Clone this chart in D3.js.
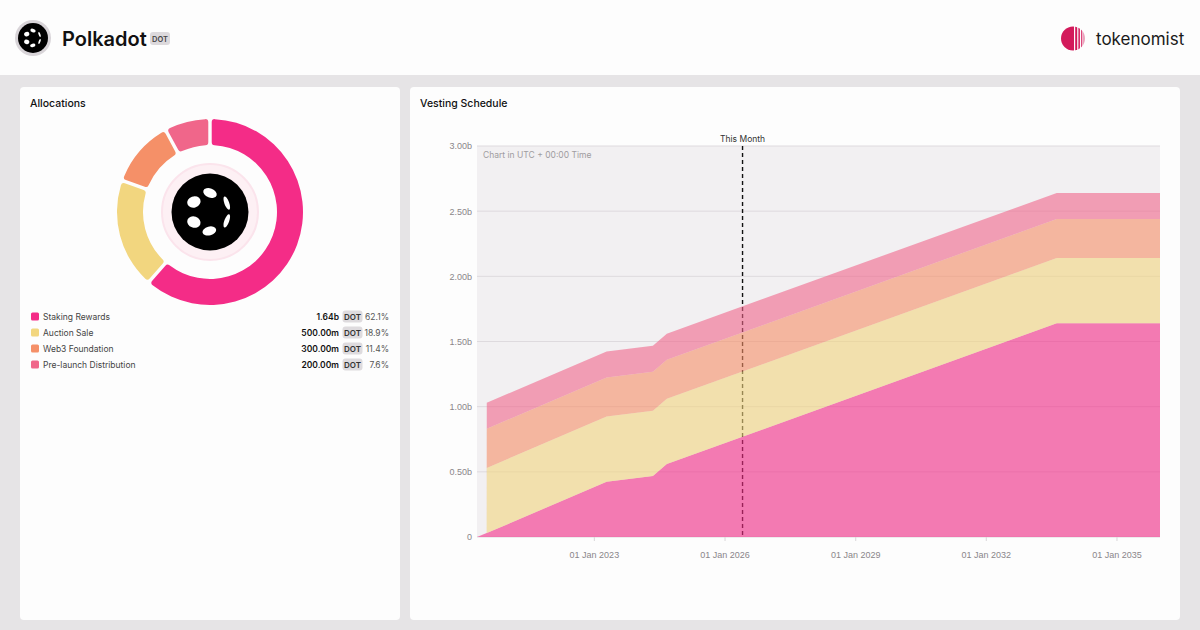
<!DOCTYPE html>
<html>
<head>
<meta charset="utf-8">
<script src="https://cdn.jsdelivr.net/npm/d3@7"></script>
<style>
  html, body { margin: 0; padding: 0; background: #e6e4e6; }
  svg { display: block; font-family: Inter, "Noto Sans", sans-serif; }
  .axis text { fill: #8a868a; font-size: 9px; }
  .axis line { stroke: #d9d6d9; }
  .axis path { display: none; }
</style>
</head>
<body>
<svg id="chart" width="1200" height="630"></svg>
<script>
// allocations
const categories = ['Staking Rewards', 'Auction Sale', 'Web3 Foundation', 'Pre-launch Distribution'];
const allocations = [1.64e9, 500e6, 300e6, 200e6];
const amountLabels = ['1.64b', '500.00m', '300.00m', '200.00m'];
const shareLabels = ['62.1%', '18.9%', '11.4%', '7.6%'];
const colors = ['#f42c87', '#f2d67f', '#f59068', '#f0668a'];

// vesting schedule (billions of DOT, cumulative unlocked)
const vestDates = ['2020-04-26', '2020-07-16', '2020-07-17', '2023-04-18', '2024-05-10', '2024-09-04', '2033-08-18', '2036-01-01'];
const stakingRewards = [0, 0.03, 0.03, 0.424, 0.468, 0.56, 1.64, 1.64];
const auctionSale = [0, 0, 0.5, 0.5, 0.5, 0.5, 0.5, 0.5];
const web3Foundation = [0, 0, 0.3, 0.3, 0.3, 0.3, 0.3, 0.3];
const preLaunch = [0, 0, 0.2, 0.2, 0.2, 0.2, 0.2, 0.2];
const yTicks = [0, 0.5, 1, 1.5, 2, 2.5, 3];
const xTickYears = [2023, 2026, 2029, 2032, 2035];
const thisMonth = '2026-06-01';

const svg = d3.select('#chart');

// header
svg.append('rect').attr('width', 1200).attr('height', 75).attr('fill', '#fdfdfd');

function polkadotMark(g, r) {
  g.append('circle').attr('r', r).attr('fill', '#000');
  const s = r / 38.5;
  const dots = [
    { a: -90, rx: 7, ry: 4.6, rot: 20 },
    { a: -148, rx: 6.8, ry: 5.6, rot: -20 },
    { a: 148, rx: 6.8, ry: 5.6, rot: 20 },
    { a: 92, rx: 7, ry: 4.4, rot: -15 },
    { a: 28, rx: 2.4, ry: 7, rot: 20 },
    { a: -28, rx: 2.4, ry: 7, rot: -20 },
  ];
  dots.forEach((d) => {
    const rad = d.a * Math.PI / 180;
    const cx = Math.cos(rad) * 19 * s;
    const cy = Math.sin(rad) * 19 * s;
    g.append('ellipse')
      .attr('cx', cx)
      .attr('cy', cy)
      .attr('rx', d.rx * s)
      .attr('ry', d.ry * s)
      .attr('transform', `rotate(${d.rot} ${cx} ${cy})`)
      .attr('fill', '#fff');
  });
}

const headLogo = svg.append('g').attr('transform', 'translate(33,38)');
headLogo.append('circle').attr('r', 18).attr('fill', '#d8d4d8');
polkadotMark(headLogo, 15);

svg.append('text').attr('x', 62).attr('y', 46).attr('font-size', 20).attr('font-weight', 600)
  .attr('fill', '#111').text('Polkadot');
svg.append('rect').attr('x', 150).attr('y', 32).attr('width', 20).attr('height', 13).attr('rx', 3).attr('fill', '#dcd9dc');
svg.append('text').attr('x', 160).attr('y', 41.5).attr('text-anchor', 'middle').attr('font-size', 7.5)
  .attr('font-weight', 600).attr('fill', '#444').text('DOT');

// tokenomist brand
const defs = svg.append('defs');
defs.append('clipPath').attr('id', 'brandClip').append('circle').attr('cx', 1073).attr('cy', 38.5).attr('r', 12);
const brand = svg.append('g').attr('clip-path', 'url(#brandClip)');
brand.append('rect').attr('x', 1061).attr('y', 26).attr('width', 13).attr('height', 25).attr('fill', '#d31a5b');
[[1075.2, 2], [1078.4, 1.5], [1081.2, 1.1], [1083.6, 0.8]].forEach(([bx, w]) => {
  brand.append('rect').attr('x', bx).attr('y', 26).attr('width', w).attr('height', 25).attr('fill', '#d31a5b');
});
svg.append('text').attr('x', 1096).attr('y', 44.5).attr('font-size', 17).attr('fill', '#1a1a1a').text('tokenomist');

// panels
svg.append('rect').attr('x', 20).attr('y', 87).attr('width', 380).attr('height', 533).attr('rx', 4).attr('fill', '#fdfdfd');
svg.append('rect').attr('x', 410).attr('y', 87).attr('width', 770).attr('height', 533).attr('rx', 4).attr('fill', '#fdfdfd');
svg.append('text').attr('x', 30).attr('y', 107).attr('font-size', 10.5).attr('font-weight', 500).attr('fill', '#111').text('Allocations');
svg.append('text').attr('x', 420).attr('y', 107).attr('font-size', 10.5).attr('font-weight', 500).attr('fill', '#111').text('Vesting Schedule');

// donut
const donut = svg.append('g').attr('transform', 'translate(210,212)');
const pie = d3.pie().sort(null).value((d) => d).padAngle(0.03);
const arc = d3.arc().innerRadius(67).outerRadius(93).cornerRadius(3);
donut.selectAll('path')
  .data(pie(allocations))
  .enter()
    .append('path')
    .attr('d', arc)
    .attr('fill', (d, i) => colors[i]);
donut.append('circle').attr('r', 48).attr('fill', '#fdf0f4').attr('stroke', '#fbe4ec').attr('stroke-width', 2);
polkadotMark(donut.append('g'), 38.5);

// legend
const legend = svg.append('g');
const rows = legend.selectAll('g')
  .data(categories)
  .enter()
    .append('g')
    .attr('transform', (d, i) => `translate(0,${316.5 + i * 16})`);
rows.append('rect').attr('x', 31).attr('y', -4).attr('width', 8).attr('height', 8).attr('rx', 1.5)
  .attr('fill', (d, i) => colors[i]);
rows.append('text').attr('x', 43).attr('y', 3).attr('font-size', 8.5).attr('fill', '#444').text((d) => d);
rows.append('text').attr('x', 339).attr('y', 3).attr('text-anchor', 'end').attr('font-size', 8.5)
  .attr('font-weight', 600).attr('fill', '#111').text((d, i) => amountLabels[i]);
rows.append('rect').attr('x', 342.5).attr('y', -6).attr('width', 20).attr('height', 12).attr('rx', 3).attr('fill', '#dedbde');
rows.append('text').attr('x', 352.5).attr('y', 3).attr('text-anchor', 'middle').attr('font-size', 8)
  .attr('font-weight', 600).attr('fill', '#333').text('DOT');
rows.append('text').attr('x', 389).attr('y', 3).attr('text-anchor', 'end').attr('font-size', 8.5)
  .attr('fill', '#555').text((d, i) => shareLabels[i]);

// vesting chart
const plot = { left: 477, right: 1160, top: 146, bottom: 537 };
const dates = vestDates.map((d) => new Date(d + 'T00:00:00Z'));
const x = d3.scaleUtc().domain(d3.extent(dates)).range([plot.left, plot.right]);
const y = d3.scaleLinear().domain([0, 3]).range([plot.bottom, plot.top]);

svg.append('rect').attr('x', plot.left).attr('y', plot.top)
  .attr('width', plot.right - plot.left).attr('height', plot.bottom - plot.top).attr('fill', '#f2f0f2');

svg.append('g').selectAll('line')
  .data(yTicks)
  .enter()
    .append('line')
    .attr('x1', plot.left).attr('x2', plot.right)
    .attr('y1', (d) => y(d)).attr('y2', (d) => y(d))
    .attr('stroke', '#dedade').attr('stroke-width', 1);

const nowX = x(new Date(thisMonth + 'T00:00:00Z'));
svg.append('line').attr('x1', nowX).attr('x2', nowX).attr('y1', plot.top).attr('y2', plot.bottom)
  .attr('stroke', '#111').attr('stroke-width', 1.4).attr('stroke-dasharray', '4,3');
svg.append('text').attr('x', nowX).attr('y', 142).attr('text-anchor', 'middle').attr('font-size', 8.5)
  .attr('fill', '#333').text('This Month');

const table = dates.map((d, i) => ({
  date: d,
  s0: stakingRewards[i],
  s1: auctionSale[i],
  s2: web3Foundation[i],
  s3: preLaunch[i],
}));
const stack = d3.stack().keys(['s0', 's1', 's2', 's3']);
const area = d3.area()
  .x((d) => x(d.data.date))
  .y0((d) => y(d[0]))
  .y1((d) => y(d[1]));
svg.append('g').selectAll('path')
  .data(stack(table))
  .enter()
    .append('path')
    .attr('d', area)
    .attr('fill', (d, i) => colors[i])
    .attr('fill-opacity', 0.6);

svg.append('text').attr('x', 483).attr('y', 158).attr('font-size', 8.5).attr('fill', '#a09ca0')
  .text('Chart in UTC + 00:00 Time');

svg.append('g')
  .attr('class', 'axis')
  .attr('transform', `translate(0,${plot.bottom})`)
  .call(d3.axisBottom(x)
    .tickValues(xTickYears.map((yr) => new Date(Date.UTC(yr, 0, 1))))
    .tickFormat(d3.utcFormat('%d %b %Y'))
    .tickSize(4)
    .tickPadding(11));

svg.append('g')
  .attr('class', 'axis')
  .attr('transform', `translate(${plot.left},0)`)
  .call(d3.axisLeft(y)
    .tickValues(yTicks)
    .tickFormat((v) => (v === 0 ? '0' : v.toFixed(2) + 'b'))
    .tickSize(0)
    .tickPadding(5));
</script>
</body>
</html>
